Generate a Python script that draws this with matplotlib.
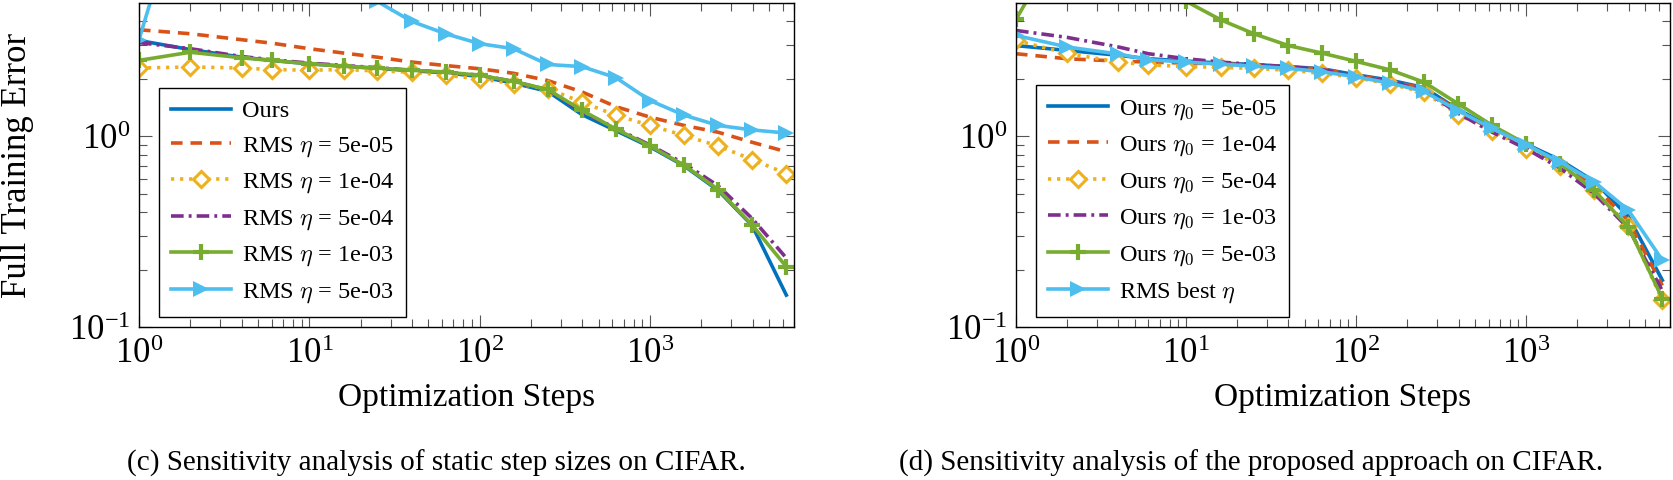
import matplotlib
matplotlib.use("Agg")
import matplotlib.pyplot as plt
from matplotlib.ticker import LogLocator, NullFormatter

plt.rcParams['font.family'] = ['Liberation Serif', 'DejaVu Serif']
plt.rcParams['mathtext.fontset'] = 'cm'

# optimisation steps (shared x grid)
steps = [1, 2, 4, 6, 10, 16, 25, 40, 63, 100, 158, 251, 398, 631, 1000, 1585, 2512, 3981, 6310]

# (c) static step sizes
c_ours = [3.18, 2.85, 2.60, 2.50, 2.40, 2.33, 2.27, 2.21, 2.15, 2.06, 1.90, 1.72, 1.30, 1.07, 0.88, 0.70, 0.52, 0.34, 0.147]
c_rms_5e5 = [3.62, 3.45, 3.21, 3.08, 2.88, 2.73, 2.60, 2.45, 2.35, 2.26, 2.14, 1.96, 1.71, 1.43, 1.26, 1.14, 1.05, 0.93, 0.83]
c_rms_1e4 = [2.28, 2.31, 2.28, 2.24, 2.22, 2.24, 2.20, 2.17, 2.09, 2.00, 1.89, 1.78, 1.51, 1.29, 1.14, 1.01, 0.89, 0.755, 0.638]
c_rms_5e4 = [3.10, 2.88, 2.62, 2.52, 2.42, 2.35, 2.29, 2.22, 2.17, 2.09, 1.94, 1.75, 1.35, 1.10, 0.90, 0.72, 0.55, 0.37, 0.23]
c_rms_1e3 = [2.50, 2.76, 2.58, 2.50, 2.40, 2.33, 2.28, 2.22, 2.17, 2.09, 1.94, 1.76, 1.37, 1.09, 0.89, 0.705, 0.526, 0.342, 0.207]
c_rms_5e3 = [3.21, 25.0, 18.0, 12.0, 8.0, 6.0, 5.1, 4.0, 3.45, 3.06, 2.88, 2.38, 2.32, 2.03, 1.54, 1.29, 1.14, 1.08, 1.04]
c_labels = ['Ours', r'RMS $\eta$ = 5e-05', r'RMS $\eta$ = 1e-04',
            r'RMS $\eta$ = 5e-04', r'RMS $\eta$ = 1e-03', r'RMS $\eta$ = 5e-03']

# (d) proposed approach, different eta_0
d_ours_5e5 = [2.99, 2.82, 2.66, 2.55, 2.48, 2.42, 2.38, 2.32, 2.26, 2.10, 1.97, 1.80, 1.38, 1.11, 0.91, 0.75, 0.58, 0.38, 0.176]
d_ours_1e4 = [2.71, 2.55, 2.48, 2.45, 2.42, 2.40, 2.36, 2.31, 2.25, 2.08, 1.95, 1.78, 1.36, 1.08, 0.88, 0.72, 0.55, 0.36, 0.165]
d_ours_5e4 = [3.18, 2.72, 2.45, 2.37, 2.32, 2.30, 2.27, 2.22, 2.14, 2.03, 1.88, 1.70, 1.30, 1.07, 0.86, 0.70, 0.52, 0.34, 0.138]
d_ours_1e3 = [3.59, 3.30, 2.94, 2.71, 2.55, 2.45, 2.38, 2.31, 2.24, 2.07, 1.93, 1.74, 1.32, 1.05, 0.86, 0.68, 0.50, 0.33, 0.155]
d_ours_5e3 = [4.10, 12.0, 8.5, 6.5, 5.1, 4.08, 3.45, 2.99, 2.73, 2.47, 2.23, 1.92, 1.48, 1.14, 0.91, 0.72, 0.52, 0.335, 0.141]
d_rms_best = [3.38, 2.94, 2.70, 2.52, 2.45, 2.39, 2.33, 2.27, 2.18, 2.05, 1.90, 1.72, 1.36, 1.10, 0.90, 0.734, 0.576, 0.41, 0.224]
d_labels = [r'Ours $\eta_0$ = 5e-05', r'Ours $\eta_0$ = 1e-04', r'Ours $\eta_0$ = 5e-04',
            r'Ours $\eta_0$ = 1e-03', r'Ours $\eta_0$ = 5e-03', r'RMS best $\eta$']

colors = ['#0072BD', '#D95319', '#EDB120', '#7E2F8E', '#77AC30', '#4DBEEE']
LW = 2.6
styles = [
    dict(linestyle='-'),
    dict(linestyle=(0, (3.2, 2.2))),
    dict(linestyle=(0, (0.9, 1.6)), marker='D', markersize=8.5, mfc='white', mew=2.2),
    dict(linestyle=(0, (3.5, 1.4, 0.8, 1.4))),
    dict(linestyle='-', marker='+', markersize=11, mew=3),
    dict(linestyle='-', marker='>', markersize=11, mew=0),
]

fig = plt.figure(figsize=(16.74, 4.8), dpi=100)
fig.patch.set_facecolor('white')

W, H = 1674, 480
ax_c = fig.add_axes([139 / W, (H - 327) / H, 655 / W, 324 / H])
ax_d = fig.add_axes([1016 / W, (H - 327) / H, 654 / W, 324 / H])

def draw(ax, series, labels):
    for vals, lab, col, st in zip(series, labels, colors, styles):
        ax.plot(steps, vals, color=col, lw=LW, label=lab, **st)
    ax.set_xscale('log')
    ax.set_yscale('log')
    ax.set_xlim(1, 7000)
    ax.set_ylim(0.1, 5)
    ax.xaxis.set_minor_locator(LogLocator(base=10, subs=range(2, 10), numticks=20))
    ax.yaxis.set_minor_locator(LogLocator(base=10, subs=range(2, 10), numticks=20))
    ax.xaxis.set_minor_formatter(NullFormatter())
    ax.yaxis.set_minor_formatter(NullFormatter())
    ax.tick_params(which='both', direction='in', top=True, right=True,
                   color='#555555', width=0.8, labelsize=25)
    ax.tick_params(which='major', length=9, pad=6)
    ax.tick_params(axis='x', which='major', pad=8)
    ax.tick_params(which='minor', length=5.5)
    for sp in ax.spines.values():
        sp.set_linewidth(1.0)
    ax.set_xlabel('Optimization Steps', fontsize=24, labelpad=8)
    leg = ax.legend(loc='lower left', bbox_to_anchor=(0.031, 0.031), borderaxespad=0,
                    fontsize=17.5, numpoints=1, handlelength=2.45, handletextpad=0.45,
                    labelspacing=0.5, borderpad=0.5, fancybox=False,
                    edgecolor='black', framealpha=1)
    leg.get_frame().set_linewidth(1.0)

draw(ax_c, [c_ours, c_rms_5e5, c_rms_1e4, c_rms_5e4, c_rms_1e3, c_rms_5e3], c_labels)
draw(ax_d, [d_ours_5e5, d_ours_1e4, d_ours_5e4, d_ours_1e3, d_ours_5e3, d_rms_best], d_labels)

ax_c.set_ylabel('Full Training Error', fontsize=25)
ax_c.yaxis.set_label_coords(-0.160, 0.5)

fig.text(436 / W, 1 - 463 / H, '(c) Sensitivity analysis of static step sizes on CIFAR.',
         ha='center', va='center', fontsize=21)
fig.text(1251 / W, 1 - 463 / H, '(d) Sensitivity analysis of the proposed approach on CIFAR.',
         ha='center', va='center', fontsize=21)

fig.savefig('out.png', dpi=100, facecolor='white')
